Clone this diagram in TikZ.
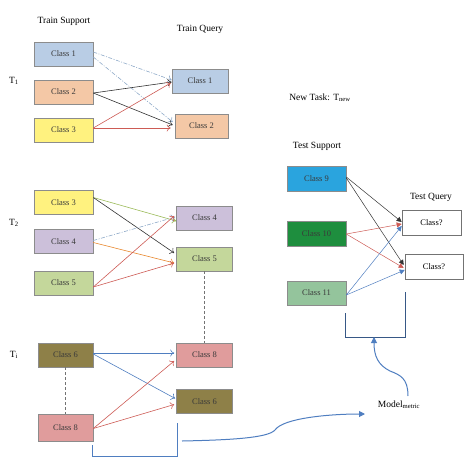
\documentclass[tikz,border=0pt]{standalone}
\usepackage{fontspec}
\setmainfont{Liberation Serif}
\usetikzlibrary{arrows.meta,calc}
\definecolor{cblue}{HTML}{B9CDE5}
\definecolor{cpeach}{HTML}{F4C8A6}
\definecolor{cyellow}{HTML}{FFF27F}
\definecolor{cpurple}{HTML}{CCC0DA}
\definecolor{cgreen}{HTML}{C4D79B}
\definecolor{colive}{HTML}{8E8048}
\definecolor{cpink}{HTML}{E09C9C}
\definecolor{cnine}{HTML}{2AA4DE}
\definecolor{cten}{HTML}{1E8E3E}
\definecolor{celeven}{HTML}{94C49C}
\definecolor{ldash}{HTML}{8EA9C8}
\definecolor{lblack}{HTML}{333333}
\definecolor{lred}{HTML}{CD5B55}
\definecolor{lgreen}{HTML}{9BBB59}
\definecolor{lorange}{HTML}{E8882E}
\definecolor{lblue}{HTML}{4F7EC0}
\definecolor{txt}{HTML}{3A3A3A}
\begin{document}
\begin{tikzpicture}[x=1pt,y=-1pt,
  box/.style={draw=black!45,line width=0.6pt,minimum width=59pt,minimum height=24pt,inner sep=0pt,font=\fontsize{8.5}{10}\selectfont,text=txt},
  qbox/.style={box,minimum width=56pt},
  tbox/.style={box,draw=black!55,fill=white,minimum width=59pt,minimum height=25pt,text=black},
  lab/.style={font=\fontsize{9.5}{11}\selectfont,inner sep=0pt},
  con/.style={line width=0.6pt,-{To[length=4pt,width=7pt]}},
  tcon/.style={line width=0.5pt,-{Triangle[length=5pt,width=5pt]}},
  dd/.style={con,ldash,dash pattern=on 4pt off 1.5pt on 1pt off 1.5pt},
  vd/.style={draw=black!55,line width=0.7pt,dash pattern=on 3pt off 2pt},
  brk/.style={draw=lblue,line width=0.7pt},
  curv/.style={draw=lblue,line width=1pt,-{Triangle[length=6pt,width=6pt]}}
]
\useasboundingbox (0,0) rectangle (474,474);
% labels
\node[lab] (trs) at (64,21) {Train Support};
\node[lab] (trq) at (200,29) {Train Query};
\node[lab] (t1) at (14,81) {T\textsubscript{1}};
\node[lab] (t2) at (14,223) {T\textsubscript{2}};
\node[lab] (ti) at (14,355) {T\textsubscript{i}};
\node[lab] (nt) at (320,98) {New Task: T\textsubscript{new}};
\node[lab] (tsup) at (317,146) {Test Support};
\node[lab] (tq) at (431,197) {Test Query};
\node[lab] (model) at (399,405) {Model\textsubscript{metric}};
% T1
\node[box,fill=cblue] (s1) at (63.5,54) {Class 1};
\node[box,fill=cpeach] (s2) at (63.5,92) {Class 2};
\node[box,fill=cyellow] (s3) at (63.5,130) {Class 3};
\node[qbox,fill=cblue] (q1) at (200,81) {Class 1};
\node[qbox,fill=cpeach,minimum width=53pt] (q2) at (201.5,126) {Class 2};
\draw[dd] ([yshift=2pt]s1.east) -- ([yshift=1pt]q1.west);
\draw[dd] ([yshift=-3pt]s1.east) -- ([xshift=-2pt,yshift=4pt]q2.west);
\draw[con,lblack] ([yshift=-1pt]s2.east) -- ([yshift=-1pt]q1.west);
\draw[con,lblack] ([yshift=-1pt]s2.east) -- ([xshift=-2pt,yshift=1pt]q2.west);
\draw[con,lred] ([yshift=2pt]s3.east) -- ([xshift=-1pt,yshift=-2pt]q1.west);
\draw[con,lred] ([yshift=2pt]s3.east) -- ([xshift=-4pt,yshift=-2pt]q2.west);
% T2
\node[box,fill=cyellow] (s3b) at (63.5,202.5) {Class 3};
\node[box,fill=cpurple] (s4) at (63.5,241.5) {Class 4};
\node[box,fill=cgreen] (s5) at (63.5,283) {Class 5};
\node[qbox,fill=cpurple] (q4) at (204.5,218) {Class 4};
\node[qbox,fill=cgreen] (q5) at (204.5,259) {Class 5};
\draw[con,lgreen] ([yshift=5pt]s3b.east) -- ([yshift=-3pt]q4.west);
\draw[con,lblack] ([yshift=5pt]s3b.east) -- ([xshift=-2pt,yshift=6pt]q5.west);
\draw[dd] ([yshift=1pt]s4.east) -- ([xshift=-1pt,yshift=1pt]q4.west);
\draw[con,lorange] ([yshift=-1pt]s4.east) -- ([xshift=-2pt,yshift=-4pt]q5.west);
\draw[con,lred] ([yshift=-4pt]s5.east) -- ([xshift=-2pt,yshift=2pt]q4.west);
\draw[con,lred] ([yshift=-4pt]s5.east) -- ([xshift=-2pt,yshift=-4pt]q5.west);
% Ti
\node[box,fill=colive,minimum width=55pt] (s6) at (65.5,355) {Class 6};
\node[box,fill=cpink,minimum width=55pt,minimum height=27pt] (s8) at (65.5,427.5) {Class 8};
\node[qbox,fill=cpink] (q8) at (204.5,355) {Class 8};
\node[qbox,fill=colive] (q6) at (204.5,401.5) {Class 6};
\draw[vd] (s6.south) -- (s8.north);
\draw[vd] (q5.south) -- (q8.north);
\draw[con,lblue] ([yshift=2pt]s6.east) -- ([xshift=-2pt,yshift=2pt]q8.west);
\draw[con,lblue] ([yshift=1pt]s6.east) -- ([xshift=-1pt,yshift=3pt]q6.west);
\draw[con,lred] ([yshift=-1pt]s8.east) -- ([xshift=-2pt,yshift=-6pt]q8.west);
\draw[con,lred] ([yshift=-1pt]s8.east) -- ([xshift=-2pt,yshift=-3pt]q6.west);
\coordinate (b1) at (92,445);
\coordinate (b2) at (177,423);
\draw[brk] (b1) -- (92,456) -| (b2);
% Test
\node[box,fill=cnine,minimum height=25pt] (c9) at (316.5,179) {Class 9};
\node[box,fill=cten,minimum height=25pt] (c10) at (316.5,234) {Class 10};
\node[box,fill=celeven,minimum height=24pt] (c11) at (316.5,293) {Class 11};
\node[tbox] (x1) at (431.5,223) {Class?};
\node[tbox,minimum width=58pt] (x2) at (434,267) {Class?};
\draw[tcon,lblack] ([yshift=2pt]c9.east) -- ([yshift=1pt]x1.west);
\draw[tcon,lblack] ([yshift=1pt]c9.east) -- ([xshift=-1pt,yshift=2pt]x2.west);
\draw[tcon,lred] (c10.east) -- ([yshift=-1pt]x1.west);
\draw[tcon,lred] (c10.east) -- ([xshift=-1pt,yshift=-1pt]x2.west);
\draw[tcon,lblue] ([yshift=-2pt]c11.east) -- ([yshift=-3pt]x1.west);
\draw[tcon,lblue] ([yshift=-2pt]c11.east) -- ([yshift=-3pt]x2.west);
\coordinate (b3) at (345,313);
\coordinate (b4) at (405,292);
\draw[draw=lblue!70!black,line width=0.7pt] (b3) -- (345,337) -| (b4);
% curved arrows
\coordinate (cs) at (182,441);
\coordinate (ce) at (365,414);
\draw[curv] (cs) .. controls (230,440) and (268,438) .. (275,430) .. controls (283,418) and (330,414) .. (ce);
\coordinate (ms) at (408,396);
\coordinate (me) at (374,337);
\draw[curv] (ms) .. controls (408,378) and (400,375) .. (390,371) .. controls (378,365) and (374,356) .. (me);
\end{tikzpicture}
\end{document}
